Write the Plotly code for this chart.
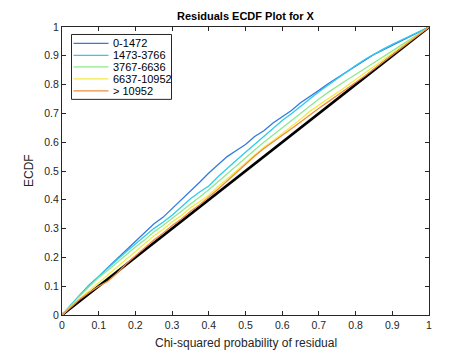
import plotly.graph_objects as go

x_vals = [0, .025, .05, .075, .1, .125, .15, .175, .2, .225, .25, .275, .3, .325, .35, .375, .4,
          .425, .45, .475, .5, .525, .55, .575, .6, .625, .65, .675, .7, .725, .75, .775, .8,
          .825, .85, .875, .9, .925, .95, .975, 1]

ecdf_0_1472 = [0, .037, .07, .105, .133, .165, .195, .227, .258, .285, .316, .339, .369, .4, .43,
               .461, .493, .52, .55, .571, .592, .62, .64, .667, .688, .71, .737, .757, .78, .803,
               .824, .845, .864, .885, .905, .92, .936, .953, .97, .985, 1]
ecdf_1473_3766 = [0, .037, .072, .105, .135, .163, .192, .22, .246, .273, .3, .322, .346, .375, .404,
                  .427, .448, .48, .51, .537, .565, .593, .62, .647, .675, .699, .726, .75, .775, .798,
                  .822, .845, .866, .887, .906, .923, .94, .955, .97, .985, 1]
ecdf_3767_6636 = [0, .035, .068, .1, .13, .155, .182, .21, .236, .26, .288, .311, .335, .359, .386,
                  .41, .435, .463, .492, .52, .547, .573, .6, .625, .65, .677, .7, .727, .75, .773,
                  .795, .815, .835, .855, .875, .895, .916, .937, .958, .979, 1]
ecdf_6637_10952 = [0, .03, .058, .085, .112, .14, .168, .195, .223, .247, .274, .297, .323, .345, .372,
                   .393, .417, .445, .472, .5, .528, .555, .582, .605, .63, .653, .68, .707, .73, .751,
                   .772, .795, .817, .84, .863, .886, .91, .932, .955, .977, 1]
ecdf_over_10952 = [0, .029, .056, .079, .1, .117, .145, .178, .206, .233, .26, .284, .311, .333, .36,
                   .383, .409, .437, .465, .495, .525, .552, .578, .6, .625, .647, .67, .695, .718, .74,
                   .762, .783, .806, .83, .854, .877, .903, .927, .951, .975, 1]

ref_x = [0, 1]
ref_y = [0, 1]

series_names = ["0-1472", "1473-3766", "3767-6636", "6637-10952", "> 10952"]
series_vals = [ecdf_0_1472, ecdf_1473_3766, ecdf_3767_6636, ecdf_6637_10952, ecdf_over_10952]
series_colors = ["#3479dc", "#2ccbee", "#8ee88e", "#f4ea48", "#ef8c3c"]

tick_vals = [0, 0.1, 0.2, 0.3, 0.4, 0.5, 0.6, 0.7, 0.8, 0.9, 1]
tick_text = ["0", "0.1", "0.2", "0.3", "0.4", "0.5", "0.6", "0.7", "0.8", "0.9", "1"]

FONT = "Arial, Liberation Sans, sans-serif"

# plot area geometry (page has an 8px body margin)
PL, PW, PT, PH = 54, 367, 19, 288.5

fig = go.Figure()
fig.add_trace(go.Scatter(x=ref_x, y=ref_y, mode="lines", line=dict(color="black", width=2.6),
                         showlegend=False, hoverinfo="skip"))
for name, vals, col in zip(series_names, series_vals, series_colors):
    fig.add_trace(go.Scatter(x=x_vals, y=vals, mode="lines", name=name, showlegend=False,
                             line=dict(color=col, width=1.3)))

axis_common = dict(range=[0, 1], tickvals=tick_vals, ticktext=tick_text, ticks="inside",
                   ticklen=4, tickcolor="#262626", showline=True, linecolor="#262626",
                   linewidth=1, mirror="ticks", showgrid=False, zeroline=False,
                   tickfont=dict(family=FONT, size=10.5, color="#262626"))

# custom compact legend (MATLAB style)
def px_x(p):
    return (p - 62) / PW

def px_y(p):
    return (315.5 - p) / PH

shapes = [dict(type="rect", xref="paper", yref="paper", x0=px_x(71.5), x1=px_x(171.5),
               y0=px_y(99.5), y1=px_y(34.5), line=dict(color="#262626", width=1),
               fillcolor="white", layer="above")]
annotations = []
entry_y = [43.5, 55.5, 67.0, 79.0, 91.0]
for name, col, ey in zip(series_names, series_colors, entry_y):
    shapes.append(dict(type="line", xref="paper", yref="paper", x0=px_x(73.5), x1=px_x(108.5),
                       y0=px_y(ey), y1=px_y(ey), line=dict(color=col, width=1.3), layer="above"))
    annotations.append(dict(text=name, xref="paper", yref="paper", x=px_x(110.5), y=px_y(ey),
                            xanchor="left", yanchor="middle", showarrow=False,
                            font=dict(family=FONT, size=11, color="#000000")))

annotations += [
    dict(text="Chi-squared probability of residual", xref="paper", yref="paper",
         x=0.5, y=-28 / PH, xanchor="center", yanchor="middle", showarrow=False,
         font=dict(family=FONT, size=12, color="#262626")),
    dict(text="ECDF", xref="paper", yref="paper", x=-33 / PW, y=0.5, xanchor="center",
         yanchor="middle", textangle=-90, showarrow=False,
         font=dict(family=FONT, size=12, color="#262626")),
]

fig.update_layout(
    width=474, height=355,
    margin=dict(l=PL, r=474 - PL - PW, t=PT, b=355 - PT - PH),
    paper_bgcolor="white", plot_bgcolor="white",
    font=dict(family=FONT, color="#262626"),
    title=dict(text="<b>Residuals ECDF Plot for X</b>", x=(PL + PW / 2) / 474, xanchor="center",
               y=1 - 8.5 / 355, yanchor="middle", font=dict(family=FONT, size=11, color="#000000")),
    xaxis=axis_common,
    yaxis=axis_common,
    showlegend=False,
    shapes=shapes,
    annotations=annotations,
)

fig.write_html("out.html")
